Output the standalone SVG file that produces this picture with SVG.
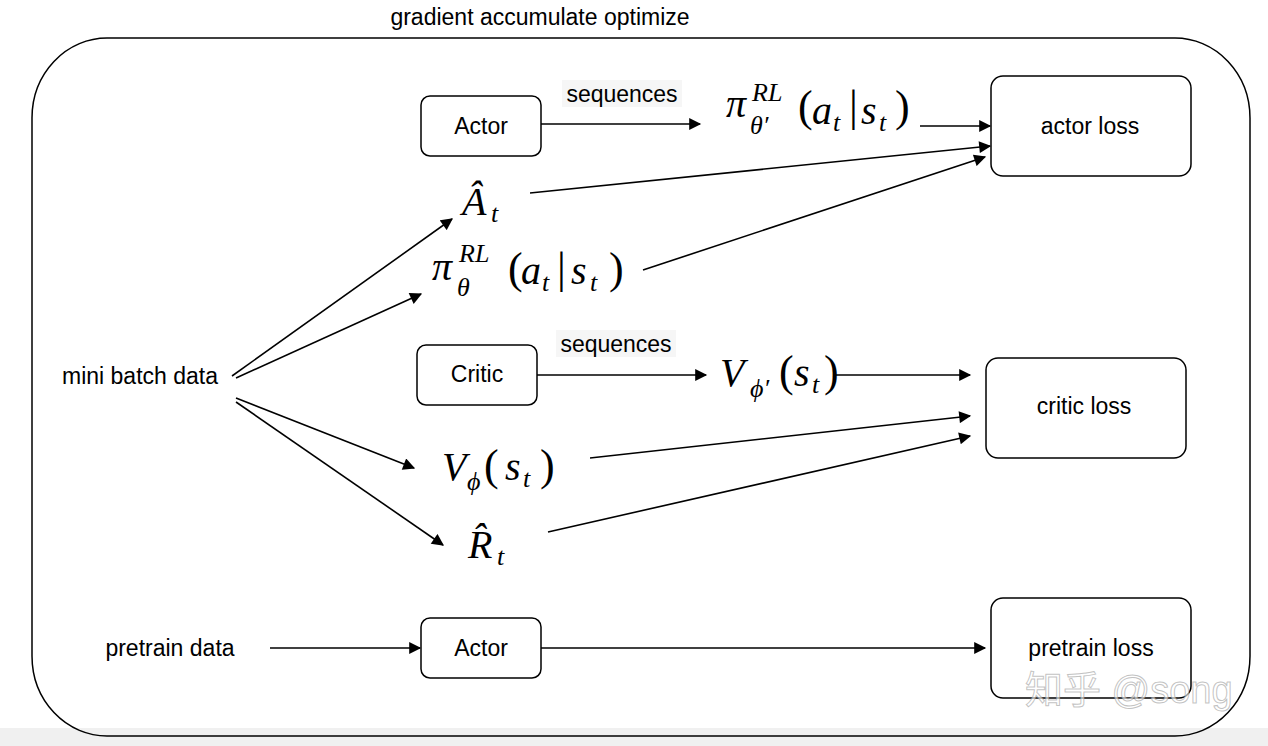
<svg xmlns="http://www.w3.org/2000/svg" width="1268" height="746" viewBox="0 0 1268 746">
<defs>
<style>
.box{fill:#fff;stroke:#000;stroke-width:1.5}
.lbl{font-family:"Liberation Sans",Arial,sans-serif;font-size:23px;fill:#000;text-anchor:middle}
.m{font-family:"Liberation Serif","DejaVu Serif",serif;font-style:italic;font-size:40px;fill:#000}
.ms{font-family:"Liberation Serif","DejaVu Serif",serif;font-style:italic;font-size:26px;fill:#000}
.mu{font-family:"Liberation Serif","DejaVu Serif",serif;font-size:44px;fill:#000}
.c{fill:none;stroke:#000;stroke-width:1.6}
</style>
<marker id="ah" viewBox="0 0 10 10" refX="9" refY="5" markerWidth="13" markerHeight="12" markerUnits="userSpaceOnUse" orient="auto">
<path d="M0,0 L10,5 L0,10 Z" fill="#000"/>
</marker>
</defs>
<rect x="0" y="0" width="1268" height="746" fill="#fff"/>
<rect x="0" y="728" width="1268" height="18" fill="#f0f0f0"/>
<rect id="outer" x="32" y="38" width="1218" height="698" rx="75" ry="80" fill="none" stroke="#000" stroke-width="1.5"/>
<text class="lbl" x="540" y="25">gradient accumulate optimize</text>

<g id="actor-top"><rect class="box" x="421" y="96" width="120" height="60" rx="9"/><text class="lbl" x="481" y="134">Actor</text></g>
<g id="actor-loss"><rect class="box" x="991" y="76" width="200" height="100" rx="12"/><text class="lbl" x="1090" y="134">actor loss</text></g>
<g id="critic"><rect class="box" x="417" y="345" width="120" height="60" rx="9"/><text class="lbl" x="477" y="382">Critic</text></g>
<g id="critic-loss"><rect class="box" x="986" y="358" width="200" height="100" rx="12"/><text class="lbl" x="1084" y="414">critic loss</text></g>
<g id="actor-bottom"><rect class="box" x="421" y="618" width="120" height="60" rx="9"/><text class="lbl" x="481" y="656">Actor</text></g>
<g id="pretrain-loss"><rect class="box" x="991" y="598" width="200" height="100" rx="12"/><text class="lbl" x="1091" y="656">pretrain loss</text></g>
<g id="mini-batch"><text class="lbl" x="140" y="384">mini batch data</text></g>
<g id="pretrain-data"><text class="lbl" x="170" y="656">pretrain data</text></g>

<g id="pi-old">
<text class="m" x="726" y="117">π</text>
<text class="ms" x="752" y="101">RL</text>
<text class="ms" x="750" y="134">θ′</text>
<text class="mu" x="798" y="121">(</text>
<text class="m" x="812" y="124">a</text><text class="ms" x="833" y="131">t</text>
<text class="mu" x="849" y="121">|</text>
<text class="m" x="861" y="124">s</text><text class="ms" x="879" y="131">t</text>
<text class="mu" x="895" y="121">)</text>
</g>
<g id="A-hat">
<text class="m" x="462" y="215">Â</text>
<text class="ms" x="491" y="222">t</text>
</g>
<g id="pi-new">
<text class="m" x="432" y="280">π</text>
<text class="ms" x="459" y="262">RL</text>
<text class="ms" x="457" y="296">θ</text>
<text class="mu" x="508" y="283">(</text>
<text class="m" x="521" y="284">a</text><text class="ms" x="542" y="291">t</text>
<text class="mu" x="557" y="283">|</text>
<text class="m" x="571" y="284">s</text><text class="ms" x="590" y="291">t</text>
<text class="mu" x="609" y="283">)</text>
</g>
<g id="V-old">
<text class="m" x="720" y="386">V</text>
<text class="ms" x="750" y="397">ϕ′</text>
<text class="mu" x="779" y="386">(</text>
<text class="m" x="794" y="386">s</text><text class="ms" x="812" y="393">t</text>
<text class="mu" x="824" y="386">)</text>
</g>
<g id="V-new">
<text class="m" x="442" y="480">V</text>
<text class="ms" x="467" y="490">ϕ</text>
<text class="mu" x="484" y="480">(</text>
<text class="m" x="505" y="480">s</text><text class="ms" x="523" y="487">t</text>
<text class="mu" x="540" y="480">)</text>
</g>
<g id="R-hat">
<text class="m" x="468" y="558">R̂</text>
<text class="ms" x="497" y="565">t</text>
</g>

<g id="connectors">
<rect x="562" y="80" width="120" height="27" fill="#f6f6f6"/>
<text class="lbl" x="622" y="102">sequences</text>
<rect x="556" y="330" width="120" height="27" fill="#f6f6f6"/>
<text class="lbl" x="616" y="352">sequences</text>
<line class="c" x1="541" y1="124" x2="700" y2="124" marker-end="url(#ah)"/>
<line class="c" x1="920" y1="126" x2="990" y2="126" marker-end="url(#ah)"/>
<line class="c" x1="530" y1="193" x2="990" y2="146" marker-end="url(#ah)"/>
<line class="c" x1="643" y1="270" x2="985" y2="157" marker-end="url(#ah)"/>
<line class="c" x1="232" y1="376" x2="452" y2="219" marker-end="url(#ah)"/>
<line class="c" x1="236" y1="378" x2="421" y2="294" marker-end="url(#ah)"/>
<line class="c" x1="236" y1="398" x2="414" y2="468" marker-end="url(#ah)"/>
<line class="c" x1="236" y1="402" x2="443" y2="545" marker-end="url(#ah)"/>
<line class="c" x1="537" y1="375" x2="706" y2="375" marker-end="url(#ah)"/>
<line class="c" x1="835" y1="375" x2="970" y2="375" marker-end="url(#ah)"/>
<line class="c" x1="590" y1="458" x2="970" y2="416" marker-end="url(#ah)"/>
<line class="c" x1="548" y1="532" x2="970" y2="436" marker-end="url(#ah)"/>
<line class="c" x1="270" y1="648" x2="420" y2="648" marker-end="url(#ah)"/>
<line class="c" x1="541" y1="648" x2="985" y2="648" marker-end="url(#ah)"/>
</g>
<text x="1025" y="703" font-family="'Liberation Sans','Noto Sans CJK SC',sans-serif" font-size="38" fill="#fff" fill-opacity="0.6" stroke="#999" stroke-width="1" stroke-opacity="0.6">知乎 @song</text>
</svg>
